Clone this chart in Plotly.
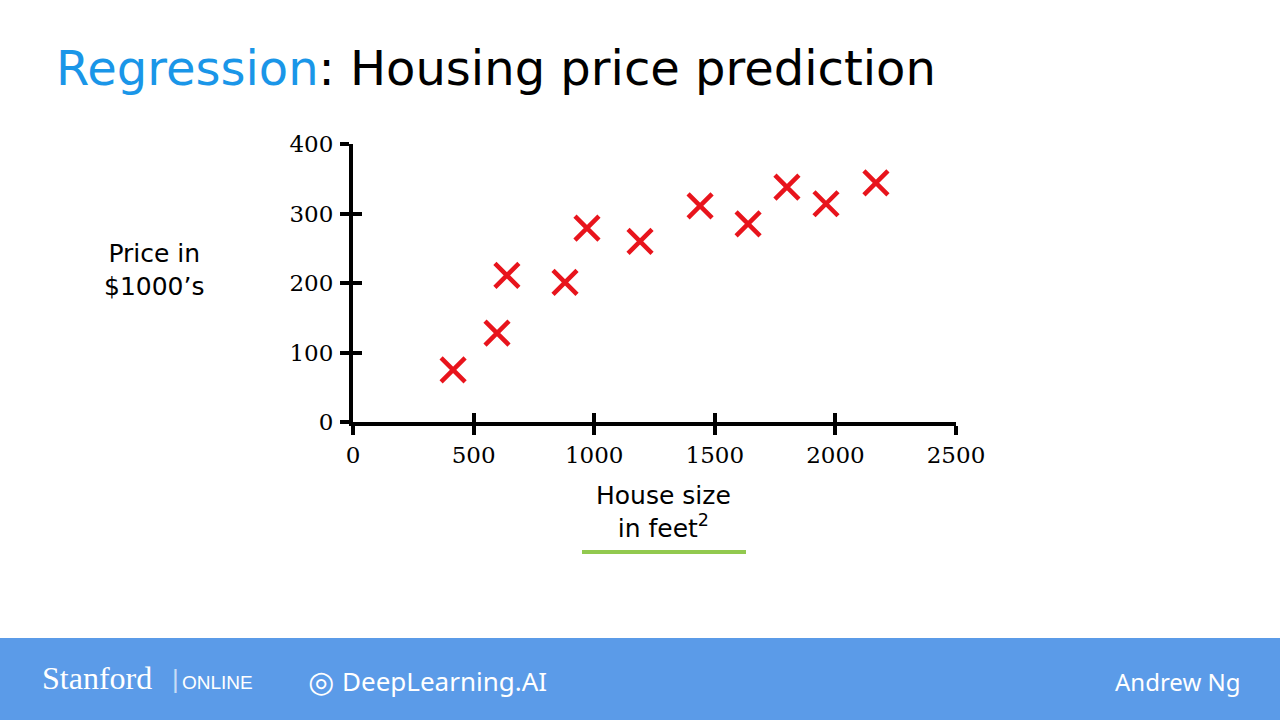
import plotly.graph_objects as go

sizes = [415, 597, 638, 879, 970, 1190, 1439, 1638, 1799, 1961, 2168]
prices = [75, 128, 211, 201, 279, 260, 311, 285, 338, 314, 344]
x_ticks = [0, 500, 1000, 1500, 2000, 2500]
y_ticks = [0, 100, 200, 300, 400]

fig = go.Figure()
fig.add_trace(go.Scatter(x=sizes, y=prices, mode="markers",
    marker=dict(symbol="x-thin", size=24, line=dict(width=4.5, color="#e8141c"), color="#e8141c"),
    showlegend=False))
fig.add_trace(go.Scatter(x=[None], y=[None], xaxis="x2", yaxis="y2", showlegend=False))

tickfont = dict(family="DejaVu Serif", size=23, color="black")
common = dict(showgrid=False, zeroline=False, showline=True, linecolor="black", linewidth=4,
              tickwidth=4, ticklen=9, tickcolor="black")
fig.update_layout(
    width=1280, height=720, paper_bgcolor="white", plot_bgcolor="white",
    margin=dict(l=353, r=324, t=144, b=298),
    xaxis=dict(range=[0, 2500], tickvals=x_ticks, ticks="outside", tickfont=tickfont, **common),
    yaxis=dict(range=[0, 400], tickvals=y_ticks, ticks="outside", tickfont=tickfont, **common),
    xaxis2=dict(range=[0, 2500], tickvals=x_ticks, ticks="inside", showticklabels=False,
                overlaying="x", anchor="y2", **common),
    yaxis2=dict(range=[0, 400], tickvals=y_ticks, ticks="inside", showticklabels=False,
                overlaying="y", anchor="x2", **common),
)
fig.update_xaxes(ticklabelstandoff=0)
fig.update_yaxes(ticklabelstandoff=2)

shapes = [
    dict(type="rect", xref="paper", yref="paper", x0=-1, x1=2, y0=-2, y1=(720-638-298)/278,
         fillcolor="#5b9be8", line=dict(width=0), layer="below"),
    dict(type="line", xref="paper", yref="paper", x0=(582-353)/603, x1=(746-353)/603,
         y0=-(552-422)/278, y1=-(552-422)/278, line=dict(color="#92c94f", width=4)),
]
fig.update_layout(shapes=shapes)

sans = "DejaVu Sans"
def ann(text, px, py, size, color="black", xanchor="left", family=sans, align="left"):
    fig.add_annotation(text=text, xref="paper", yref="paper",
        x=(px-353)/603, y=(422-py)/278, showarrow=False, xanchor=xanchor, yanchor="middle",
        font=dict(family=family, size=size, color=color), align=align)

ann("<span style='color:#1a96e8'>Regression</span>: Housing price prediction", 54, 68, 48)
ann("Price in<br>$1000’s", 154, 270, 25, xanchor="center", align="center")
ann("House size<br>in feet<sup>2</sup>", 663, 512, 25, xanchor="center", align="center")
ann("Stanford", 40, 678, 32, color="white", family="Liberation Serif")
ann("|", 170, 679, 26, color="#c8dcf6", family="Liberation Sans")
ann("ONLINE", 180, 682, 19, color="white", family="Liberation Sans")
ann("◎", 306, 681, 30, color="white", family="DejaVu Sans")
ann("DeepLearning.AI", 340, 681, 26, color="white", family="Noto Sans")
ann("Andrew Ng", 1243, 681, 24, color="white", xanchor="right", family="Noto Sans")

fig.write_html("out.html", config={"displayModeBar": False},
               post_script="document.body.style.margin='0';document.body.style.overflow='hidden';")
